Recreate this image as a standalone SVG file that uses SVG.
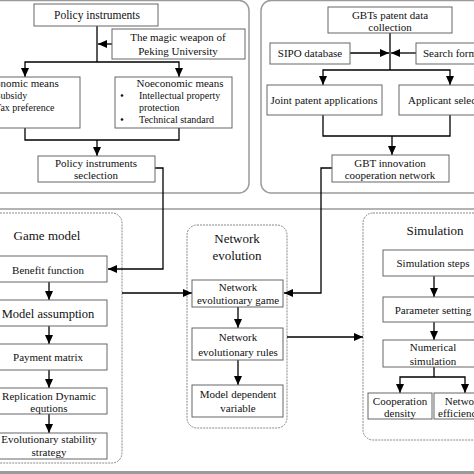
<svg xmlns="http://www.w3.org/2000/svg" width="474" height="474" viewBox="0 0 474 474">
<defs>
<marker id="ah" markerUnits="userSpaceOnUse" markerWidth="9" markerHeight="8" refX="9" refY="4" orient="auto"><path d="M0,0 L9,4 L0,8 z" fill="#000"/></marker>
<style>
text{font-family:"Liberation Serif","Times New Roman",serif;font-size:11px;fill:#111;text-anchor:middle}
.frame{fill:none;stroke:#9a9a9a;stroke-width:1.5}
.dash{fill:none;stroke:#888;stroke-width:1;stroke-dasharray:2 1}
.box{fill:#fff;stroke:#666;stroke-width:1}
.c{fill:none;stroke:#000;stroke-width:1.3}
.t13{font-size:13px}
.s10{font-size:10px;text-anchor:start}
.st{text-anchor:start}
</style>
</defs>
<rect width="474" height="474" fill="#fff"/>
<g id="frames">
<rect class="frame" x="-10" y="0.5" width="259" height="192.5" rx="10"/>
<rect class="frame" x="261" y="0.5" width="240" height="192.5" rx="10"/>
<line x1="0" y1="209" x2="474" y2="209" stroke="#9a9a9a" stroke-width="1.5"/>
<line x1="0" y1="472.5" x2="474" y2="472.5" stroke="#9a9a9a" stroke-width="3"/>
</g>
<g id="game-model">
<rect class="dash" x="-10" y="213" width="132" height="250" rx="10"/>
<text class="t13" x="47" y="240">Game model</text>
</g>
<g id="network-evolution">
<rect class="dash" x="187" y="225" width="100" height="203" rx="10"/>
<text class="t13" x="237" y="242.5">Network</text>
<text class="t13" x="237" y="259.5">evolution</text>
</g>
<g id="simulation">
<rect class="dash" x="363" y="213" width="140" height="227" rx="10"/>
<text class="t13" x="435" y="234.5">Simulation</text>
</g>
<g id="connectors">
<path class="c" d="M97,26 V62"/>
<path class="c" d="M112,44 H98" marker-end="url(#ah)"/>
<path class="c" d="M97,62 H25 V77" marker-end="url(#ah)"/>
<path class="c" d="M97,62 H179 V77" marker-end="url(#ah)"/>
<path class="c" d="M25,128 V140 H179 V128"/>
<path class="c" d="M97,140 V156" marker-end="url(#ah)"/>
<path class="c" d="M155,168 H163 V269 H108" marker-end="url(#ah)"/>
<path class="c" d="M390,33 V70"/>
<path class="c" d="M350,53 H389" marker-end="url(#ah)"/>
<path class="c" d="M416,53 H391" marker-end="url(#ah)"/>
<path class="c" d="M390,70 H323 V85" marker-end="url(#ah)"/>
<path class="c" d="M390,70 H450 V85" marker-end="url(#ah)"/>
<path class="c" d="M323,115 V136 H450 V115"/>
<path class="c" d="M392,136 V155" marker-end="url(#ah)"/>
<path class="c" d="M332,168 H321 V293 H284" marker-end="url(#ah)"/>
<path class="c" d="M122,293 H192" marker-end="url(#ah)"/>
<path class="c" d="M287,337 H363" marker-end="url(#ah)"/>
<path class="c" d="M49,282 V300" marker-end="url(#ah)"/>
<path class="c" d="M49,326 V344" marker-end="url(#ah)"/>
<path class="c" d="M49,370 V388" marker-end="url(#ah)"/>
<path class="c" d="M49,414 V433" marker-end="url(#ah)"/>
<path class="c" d="M238,307 V328" marker-end="url(#ah)"/>
<path class="c" d="M238,360 V385" marker-end="url(#ah)"/>
<path class="c" d="M434,276 V297" marker-end="url(#ah)"/>
<path class="c" d="M434,322 V340" marker-end="url(#ah)"/>
<path class="c" d="M434,367 V377"/>
<path class="c" d="M434,377 H400 V393" marker-end="url(#ah)"/>
<path class="c" d="M434,377 H465 V393" marker-end="url(#ah)"/>
</g>
<g id="policy-instruments">
<rect class="box" x="34" y="4" width="124" height="22"/>
<text x="97" y="19" style="font-size:11.5px">Policy instruments</text>
</g>
<g id="magic-weapon">
<rect class="box" x="112" y="29" width="133" height="30"/>
<text x="178" y="41">The magic weapon of</text>
<text x="178" y="55">Peking University</text>
</g>
<g id="economic-means">
<rect class="box" x="-30" y="77" width="110" height="51"/>
<text x="21" y="87">Economic means</text>
<circle cx="-22" cy="95.5" r="1.3" fill="#111"/>
<text class="s10" x="-5" y="98.5">Subsidy</text>
<circle cx="-22" cy="107.5" r="1.3" fill="#111"/>
<text class="s10" x="-5" y="110.5">Tax preference</text>
</g>
<g id="noeconomic-means">
<rect class="box" x="115" y="77" width="117" height="51"/>
<text x="180" y="87">Noeconomic means</text>
<circle cx="122" cy="95.5" r="1.3" fill="#111"/>
<text class="s10" x="139" y="98.5">Intellectual property</text>
<text class="s10" x="139" y="110.5">protection</text>
<circle cx="122" cy="119.5" r="1.3" fill="#111"/>
<text class="s10" x="139" y="122.5">Technical standard</text>
</g>
<g id="policy-selection">
<rect class="box" x="38" y="156" width="117" height="26"/>
<text x="96" y="167">Policy instruments</text>
<text x="96" y="179">seclection</text>
</g>
<g id="gbts-collection">
<rect class="box" x="328" y="7" width="124" height="26"/>
<text x="390" y="18.5">GBTs patent data</text>
<text x="390" y="30.5">collection</text>
</g>
<g id="sipo">
<rect class="box" x="270" y="43" width="80" height="21"/>
<text x="310" y="57">SIPO database</text>
</g>
<g id="search-form">
<rect class="box" x="416" y="43" width="80" height="21"/>
<text class="st" x="423" y="57">Search form</text>
</g>
<g id="joint-patent">
<rect class="box" x="267" y="85" width="115" height="30"/>
<text x="324" y="104">Joint patent applications</text>
</g>
<g id="applicant-selection">
<rect class="box" x="399" y="85" width="102" height="30"/>
<text class="st" x="408" y="104">Applicant selection</text>
</g>
<g id="gbt-network">
<rect class="box" x="332" y="155" width="117" height="27"/>
<text x="390" y="167">GBT innovation</text>
<text x="390" y="179">cooperation network</text>
</g>
<g id="benefit-function">
<rect class="box" x="-9" y="256" width="116" height="26"/>
<text x="48" y="273.5">Benefit function</text>
</g>
<g id="model-assumption">
<rect class="box" x="-9" y="300" width="116" height="26"/>
<text x="48" y="317.5" style="font-size:12.5px">Model assumption</text>
</g>
<g id="payment-matrix">
<rect class="box" x="-9" y="344" width="116" height="26"/>
<text x="48" y="361">Payment matrix</text>
</g>
<g id="replication">
<rect class="box" x="-9" y="388" width="116" height="26"/>
<text x="49" y="399.5">Replication Dynamic</text>
<text x="49" y="411.5">equtions</text>
</g>
<g id="ess">
<rect class="box" x="-9" y="433" width="116" height="26"/>
<text x="49" y="443">Evolutionary stability</text>
<text x="49" y="456">strategy</text>
</g>
<g id="net-game">
<rect class="box" x="192" y="280" width="91" height="27"/>
<text x="238" y="291">Network</text>
<text x="238" y="304">evolutionary game</text>
</g>
<g id="net-rules">
<rect class="box" x="192" y="328" width="91" height="32"/>
<text x="238" y="341">Network</text>
<text x="238" y="356">evolutionary rules</text>
</g>
<g id="model-variable">
<rect class="box" x="192" y="385" width="91" height="32"/>
<text x="238" y="398">Model dependent</text>
<text x="238" y="412">variable</text>
</g>
<g id="sim-steps">
<rect class="box" x="383" y="250" width="100" height="26"/>
<text x="433" y="267">Simulation steps</text>
</g>
<g id="param-setting">
<rect class="box" x="383" y="297" width="100" height="25"/>
<text x="433" y="314">Parameter setting</text>
</g>
<g id="numerical-sim">
<rect class="box" x="383" y="340" width="100" height="27"/>
<text x="433" y="351">Numerical</text>
<text x="433" y="365">simulation</text>
</g>
<g id="coop-density">
<rect class="box" x="368" y="393" width="64" height="26"/>
<text x="400" y="404.5">Cooperation</text>
<text x="400" y="416.5">density</text>
</g>
<g id="net-efficiency">
<rect class="box" x="434" y="393" width="64" height="26"/>
<text x="464" y="404.5">Network</text>
<text x="460" y="416.5">efficiency</text>
</g>
</svg>
